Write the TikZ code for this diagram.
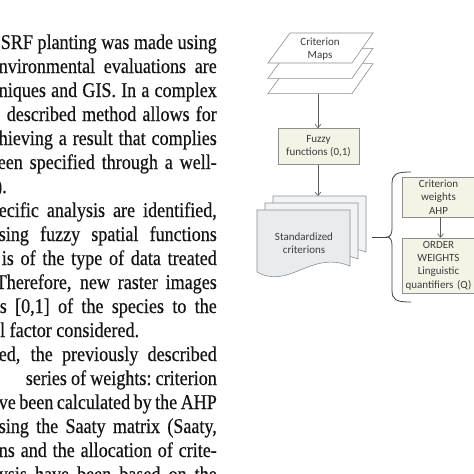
\documentclass[tikz,border=0pt]{standalone}
\usepackage{fontspec}
\setmainfont{Liberation Serif}[FakeStretch=0.86,FakeBold=0.4]
\newfontfamily\diagfont{Carlito}
\usetikzlibrary{arrows.meta}
\definecolor{boxfill}{HTML}{F4F4E6}
\definecolor{docfill}{HTML}{E9ECEF}
\definecolor{docback}{HTML}{F1F3F5}
\definecolor{edge}{HTML}{8E8E8E}
\definecolor{dtext}{HTML}{3C3C3C}
\definecolor{arrowc}{HTML}{5A5A5A}
\newcommand{\justsp}{\spaceskip=0.24em plus 1fil minus 0.08em\relax\xspaceskip=\spaceskip\relax}
\newlength{\jlw}
\newcommand{\jl}[4]{\setlength{\jlw}{217pt}\addtolength{\jlw}{-#2pt}%
  \node[bodyline,anchor=base east] (#1) at (217,#3) {\justsp\hbox to \jlw{#4}};}
\begin{document}
\begin{tikzpicture}[x=1pt,y=-1pt,
  bodyline/.style={anchor=base west,inner sep=0pt,font=\fontsize{21}{24}\selectfont,text=black!92},
  dlabel/.style={font=\diagfont\fontsize{11}{13.3}\selectfont,text=dtext,align=center,inner sep=0pt},
  flowbox/.style={draw=edge,fill=boxfill,line width=0.6pt,minimum width=#1,inner sep=0pt},
  sheet/.style={draw=edge,fill=white,line width=0.6pt},
  docsheet/.style={draw=edge,line width=0.6pt},
  arr/.style={draw=arrowc,line width=0.6pt,-{Straight Barb[length=3.5pt,width=6pt]}},
  bracec/.style={draw=black!75,line width=0.8pt}]
\useasboundingbox (0,0) rectangle (474,474);
\fill[white] (0,0) rectangle (474,474);

% ---- body text column (cut at the left edge) ----
\jl{t1}{1}{49}{SRF planting was made using}
\jl{t2}{-1}{73}{nvironmental evaluations are}
\jl{t3}{-1}{97}{niques and GIS. In a complex}
\jl{t4}{7}{121}{described method allows for}
\jl{t5}{-1}{145}{hieving a result that complies}
\jl{t6}{-2}{169}{een specified through a well-}
\node[bodyline] (t7) at (-4,193) {).};
\jl{t8}{-1}{217}{ecific analysis are identified,}
\jl{t9}{-1}{241}{sing fuzzy spatial functions}
\jl{t10}{2}{265}{is of the type of data treated}
\jl{t11}{-4}{289}{Therefore, new raster images}
\jl{t12}{0}{313}{s [0,1] of the species to the}
\node[bodyline] (t13) at (0,337) {l factor considered.};
\jl{t14}{-1}{361}{ed, the previously described}
\jl{t15}{26}{385}{series of weights: criterion}
\jl{t16}{-1}{409}{ve been calculated by the AHP}
\jl{t17}{-1}{433}{sing the Saaty matrix (Saaty,}
\jl{t18}{-1}{457}{ns and the allocation of crite-}
\jl{t19}{-1}{481}{ysis have been based on the}

% ---- criterion maps (stack of layers) ----
\foreach \k in {2,1,0}{
  \path[sheet] (290,33+15.3*\k) -- (373,33+15.3*\k) -- (352,63+15.3*\k) -- (268,63+15.3*\k) -- cycle;
}
\node[dlabel] (maps) at (320,49) {Criterion\\Maps};
\coordinate (mapsbot) at (318,93.6);

% ---- fuzzy functions ----
\node[flowbox=81pt,minimum height=36pt] (fuzzy) at (318.5,146.5) {};
\node[dlabel] (fuzzyt) at (fuzzy.center) {Fuzzy\\functions (0,1)};

% ---- standardized criterions (multi document) ----
\foreach \k/\c in {2/docback,1/docback,0/docfill}{
  \path[docsheet,fill=\c,shift={(8*\k,-7*\k)}] (257,210) -- (350,210) -- (350,266)
     .. controls (310,250) and (290,290) .. (257,272) -- cycle;
}
\node[dlabel] (docs) at (304,243) {Standardized\\criterions};
\coordinate (doctop) at (318,196);
\coordinate (docright) at (372,237);

% ---- weights ----
\node[flowbox=73pt,minimum height=40pt] (ahp) at (438.5,197) {};
\node[dlabel] (ahpt) at (ahp.center) {Criterion\\weights\\AHP};
\node[flowbox=73pt,minimum height=55pt] (order) at (438.5,265.5) {};
\node[dlabel,text width=80pt] (ordert) at (order.center) {ORDER\\WEIGHTS\\Linguistic\\quantifiers (Q)};

% ---- brace ----
\coordinate (bracetip) at (387,237);
\path[bracec] (411,172) .. controls (396,172) and (392,174) .. (392,184) -- (392,229)
   .. controls (392,234) and (390,237) .. (bracetip)
   .. controls (390,237) and (392,240) .. (392,245) -- (392,290)
   .. controls (392,300) and (396,302) .. (411,302);

% ---- connectors ----
\draw[arr] (mapsbot) -- (mapsbot |- fuzzy.north);
\draw[arr] (fuzzy.south -| doctop) -- (doctop);
\draw[arr] ([xshift=2pt]ahp.south) -- ([xshift=2pt]order.north);
\draw[draw=black!75,line width=0.8pt] (docright) -- (bracetip);
\end{tikzpicture}
\end{document}
